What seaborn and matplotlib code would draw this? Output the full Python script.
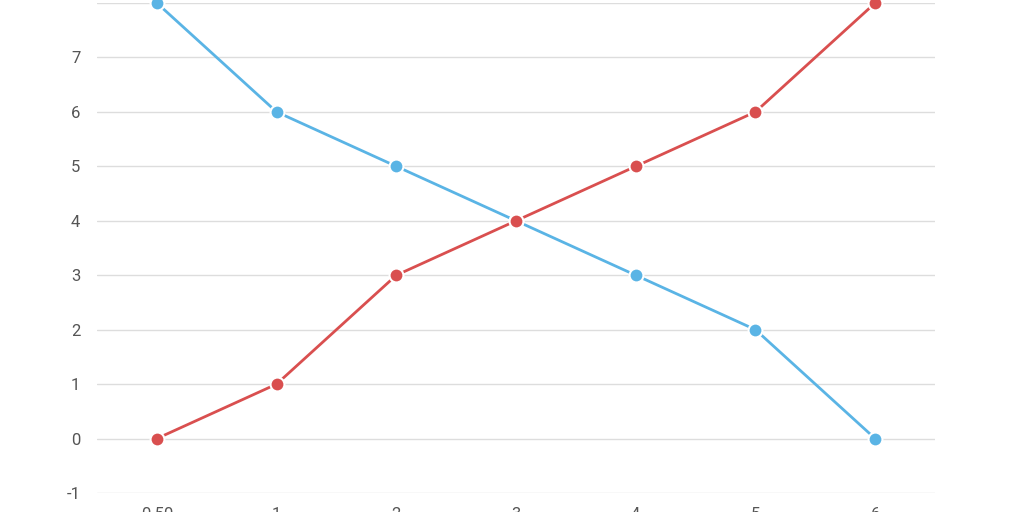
import matplotlib
matplotlib.use("Agg")
import matplotlib.pyplot as plt
import seaborn as sns
import pandas as pd

categories = ["0.50", "1", "2", "3", "4", "5", "6"]
blue_values = [8, 6, 5, 4, 3, 2, 0]
red_values = [0, 1, 3, 4, 5, 6, 8]

sns.set_style("white")
plt.rcParams['font.family'] = ['Roboto', 'DejaVu Sans']

fig = plt.figure(figsize=(10.24, 5.12), dpi=100)
ax = fig.add_axes([97/1024, 19/512, (935-97)/1024, 490/512])

df = pd.DataFrame({"x": list(range(len(categories))) * 2,
                   "y": blue_values + red_values,
                   "s": ["blue"] * 7 + ["red"] * 7})
sns.lineplot(data=df, x="x", y="y", hue="s", palette={"blue": "#5ab4e5", "red": "#d94f4f"},
             marker="o", markersize=10, markeredgecolor="white", markeredgewidth=1.5,
             linewidth=2, legend=False, ax=ax, clip_on=False, zorder=3)

ax.set_xlim(-0.5, 6.5)
ax.set_ylim(-1, 8)
ax.set_xticks(range(len(categories)))
ax.set_xticklabels(categories)
ax.set_yticks(range(-1, 9))
ax.set_yticklabels([str(v) if v < 8 else "" for v in range(-1, 9)])
ax.yaxis.grid(True, color="#dddddd", linewidth=1)
ax.xaxis.grid(False)
for s in ax.spines.values():
    s.set_visible(False)
ax.tick_params(axis="both", length=0, labelsize=12, labelcolor="#555555", pad=10)
ax.tick_params(axis="y", pad=12)
ax.set_xlabel("")
ax.set_ylabel("")
fig.savefig("out.png", dpi=100)
